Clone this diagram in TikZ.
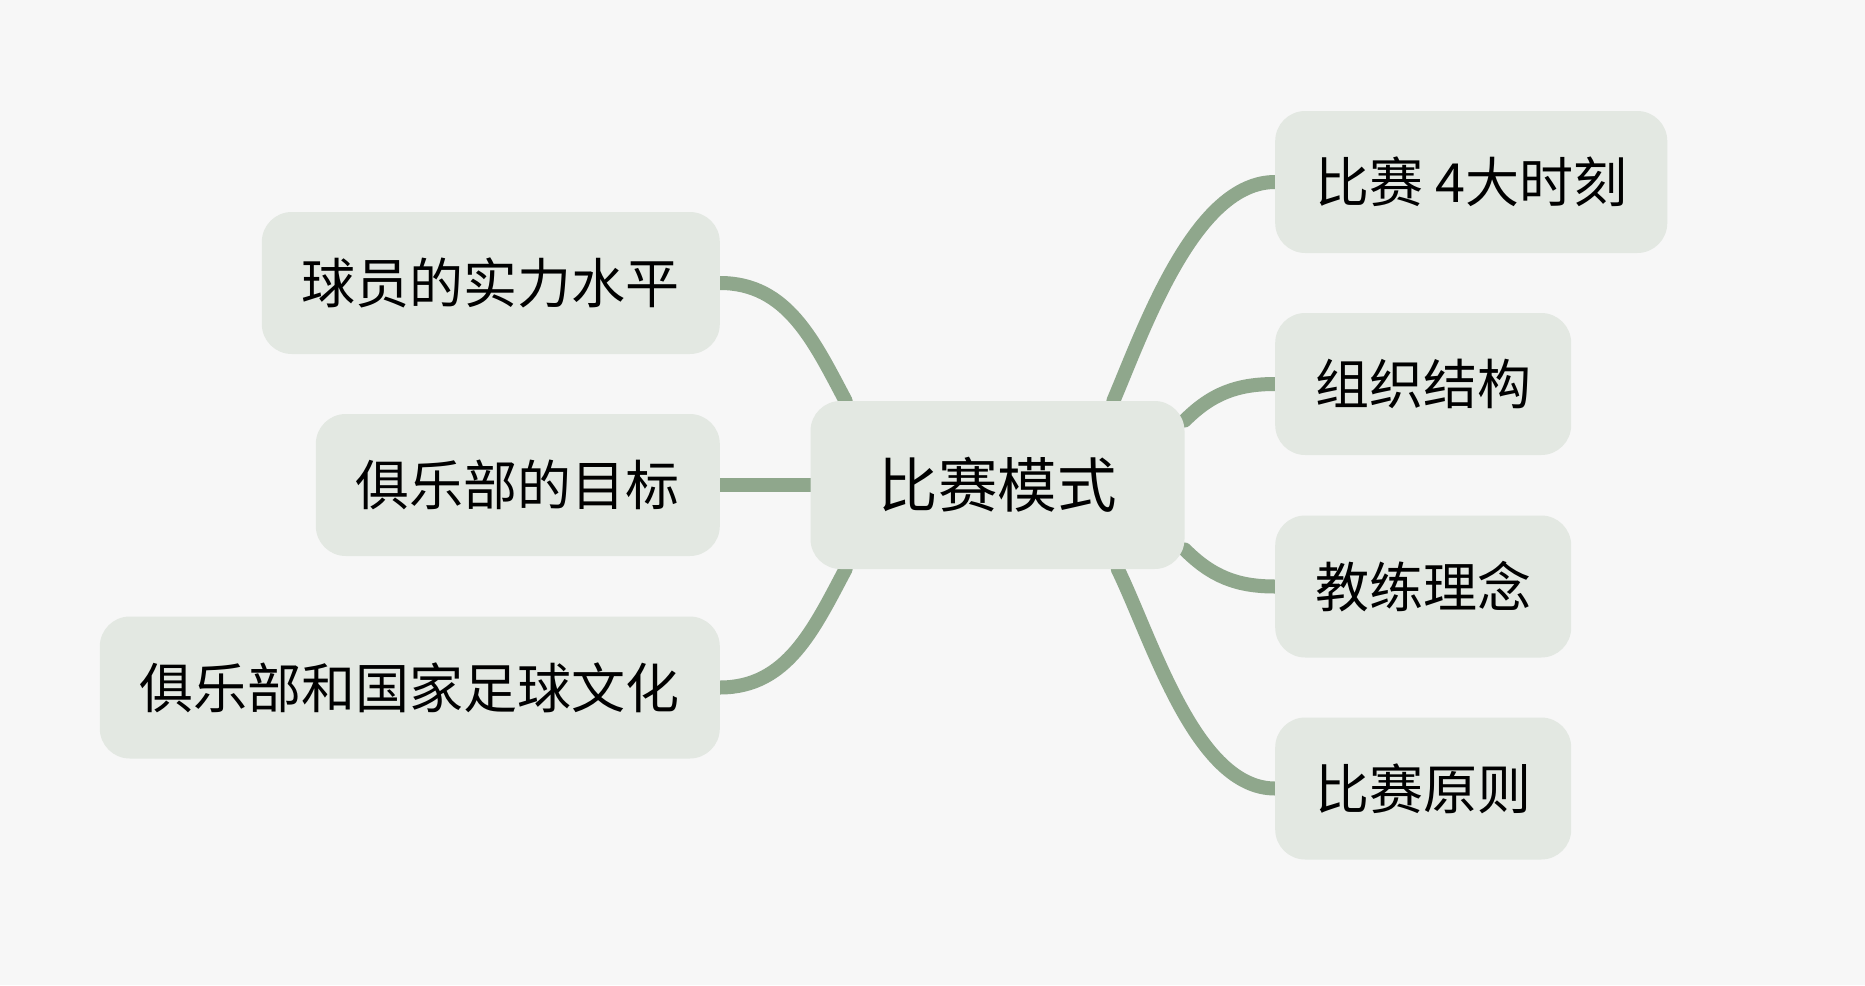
\documentclass[tikz,border=0pt]{standalone}
\usepackage{fontspec}
\setmainfont{Noto Sans CJK SC}

\pgfdeclarelayer{canvas}
\pgfdeclarelayer{links}
\pgfsetlayers{canvas,links,main}

\definecolor{paper}{HTML}{F7F7F7}
\definecolor{boxfill}{HTML}{E3E8E2}
\definecolor{branch}{HTML}{8FA78C}

\begin{document}
\begin{tikzpicture}
	  [x=1pt, y=1pt, node distance = 277.5pt,
	  %
	  topic/.style={rectangle, fill=boxfill, rounded corners=30pt, inner xsep=40pt, minimum height=142pt, font=\fontsize{54pt}{60pt}\selectfont},
	  %
	  central/.style={topic, inner xsep=68pt, minimum height=168pt, font=\fontsize{59.5pt}{66pt}\selectfont},
	  %
	  branchline/.style={draw=branch, line width=14pt, line cap=round}]

	    \begin{pgfonlayer}{canvas}
	      \fill [paper] (0,0) rectangle (1865,-985);
	    \end{pgfonlayer}

	    \node [central] (hub) at (997.5,-485) {比赛模式};
	    % right side
	    \node [topic, right of=hub, anchor=west, yshift=303pt] (moments) {比赛 4大时刻};
	    \node [topic, right of=hub, anchor=west, yshift=101pt] (org) {组织结构};
	    \node [topic, right of=hub, anchor=west, yshift=-101.5pt] (coach) {教练理念};
	    \node [topic, right of=hub, anchor=west, yshift=-303.5pt] (rules) {比赛原则};
	    % left side
	    \node [topic, left of=hub, anchor=east, yshift=202pt] (players) {球员的实力水平};
	    \node [topic, left of=hub, anchor=east] (goals) {俱乐部的目标};
	    \node [topic, left of=hub, anchor=east, yshift=-202.5pt] (culture) {俱乐部和国家足球文化};

	    \begin{pgfonlayer}{links}
	      \draw [branchline] (hub.36) to[out=67, in=180, looseness=0.75] (moments.west);
	      \draw [branchline] (hub.19) to[out=45, in=180] (org.west);
	      \draw [branchline] (hub.-19) to[out=-45, in=180] (coach.west);
	      \draw [branchline] (hub.-35) to[out=-64, in=180, looseness=0.75] (rules.west);
	      \draw [branchline] (hub.151) to[out=118, in=0] (players.east);
	      \draw [branchline] (goals.east) -- (hub.west);
	      \draw [branchline] (hub.-151) to[out=-118, in=0] (culture.east);
	    \end{pgfonlayer}
	  \end{tikzpicture}
\end{document}
